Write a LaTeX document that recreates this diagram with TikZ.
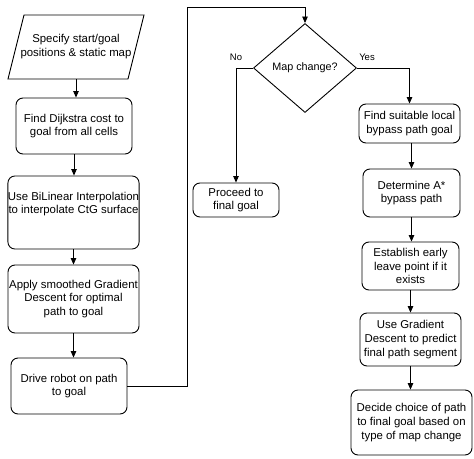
\documentclass[tikz,border=0pt]{standalone}
\usepackage{fontspec}
\setmainfont{Liberation Sans}
\usetikzlibrary{arrows.meta,shapes.geometric}
\begin{document}
\begin{tikzpicture}[x=1pt,y=-1pt,
  box/.style={draw, rounded corners=7pt, line width=0.9pt, align=center,
    font=\fontsize{11.4}{13.6}\selectfont, inner sep=0pt},
  plain/.style={align=center, font=\fontsize{11.4}{14}\selectfont, inner sep=0pt},
  arr/.style={-{Triangle[length=6.5pt,width=5.5pt]}, line width=0.85pt},
  lbl/.style={font=\fontsize{9.5}{11}\selectfont, inner sep=0pt}]
\useasboundingbox (0,0) rectangle (474,458);
\fill[white] (0,0) rectangle (474,458);

% left column
\node[plain, minimum width=120pt, minimum height=64pt] (spec) at (76,47)
  {Specify start/goal\\positions \& static map};
\draw[line width=0.9pt] (24,15) -- (144,15) -- (128,79) -- (8,79) -- cycle;

\node[box, minimum width=116pt, minimum height=56pt] (dij) at (74,126)
  {Find Dijkstra cost to\\goal from all cells};
\node[box, minimum width=131pt, minimum height=73pt] (bil) at (73.5,212.5)
  {Use BiLinear Interpolation\\to interpolate CtG surface\\[6pt]};
\node[box, minimum width=131pt, minimum height=68pt] (grad) at (73.5,299)
  {Apply smoothed Gradient\\Descent for optimal\\path to goal};
\node[box, minimum width=116pt, minimum height=56pt] (drive) at (69,386)
  {Drive robot on path\\to goal};

% decision
\node[draw, shape=diamond, line width=0.9pt, inner sep=0pt, aspect=1.16,
  minimum width=103pt, minimum height=89pt,
  font=\fontsize{10.8}{12}\selectfont] (dia) at (305,68) {Map change?};

\node[box, minimum width=86pt, minimum height=34pt] (proc) at (236,200)
  {Proceed to\\final goal};

% right column
\node[box, minimum width=101pt, minimum height=39pt] (local) at (409.5,123.5)
  {Find suitable local\\bypass path goal};
\node[box, minimum width=97pt, minimum height=48pt] (astar) at (411.5,193)
  {Determine A*\\bypass path};
\node[box, minimum width=97pt, minimum height=48pt] (early) at (410.5,266)
  {Establish early\\leave point if it\\exists};
\node[box, minimum width=101pt, minimum height=53pt] (gd) at (410.5,339.5)
  {Use Gradient\\Descent to predict\\final path segment};
\node[box, minimum width=121pt, minimum height=65pt] (dec) at (411.5,422.5)
  {Decide choice of path\\to final goal based on\\type of map change};

% connectors left
\draw[arr] (spec.south) -- (spec.south |- dij.north);
\draw[arr] (dij.south) -- (dij.south |- bil.north);
\draw[arr] (bil.south) -- (bil.south |- grad.north);
\draw[arr] (grad.south) -- (grad.south |- drive.north);

% loop to decision
\coordinate (lp) at (187,7);
\draw[arr] (drive.east) -- (drive.east -| lp) -- (lp) -| (dia.north);

% branches
\draw[arr] (dia.west) -| (proc.north);
\draw[arr] (dia.east) -| (local.north);
\node[lbl] (no) at (236,57) {No};
\node[lbl] (yes) at (367,57) {Yes};

% connectors right
\draw[arr] (local.south -| astar.north) -- (astar.north);
\draw[arr] (astar.south) -- (astar.south |- early.north);
\draw[arr] (early.south) -- (early.south |- gd.north);
\draw[arr] (gd.south) -- (gd.south |- dec.north);
\end{tikzpicture}
\end{document}
